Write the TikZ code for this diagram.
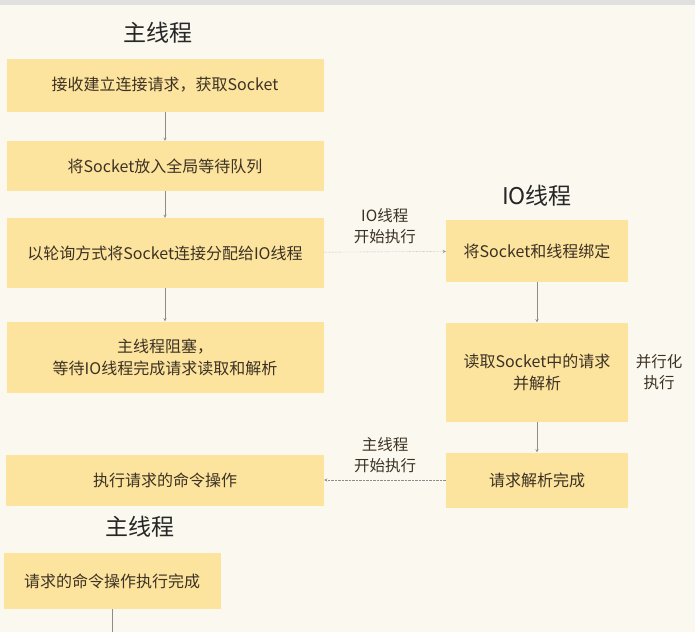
\documentclass[tikz,border=0pt]{standalone}
\usepackage{fontspec}
\setmainfont{Noto Sans CJK SC}
\usetikzlibrary{arrows}

\begin{document}
\begin{tikzpicture}[x=1pt,y=-1pt]

% ------------------------------------------------ theme colors
\definecolor{fl_bg}{RGB}{251,248,239}   %#FBF8EF
\definecolor{fl_box}{RGB}{252,227,158}  %#FCE39E
\definecolor{fl_text}{RGB}{60,50,35}    %#3C3223
\definecolor{fl_line}{RGB}{140,140,140} %#8C8C8C

\tikzset{
  flowbox/.style={fill=fl_box, text=fl_text, align=center, inner sep=0pt, font=\fontsize{16}{22}\selectfont},
  title/.style={text=black!85, font=\fontsize{23}{26}\selectfont},
  note/.style={text=fl_text, align=center, font=\fontsize{15.5}{21}\selectfont},
  flow/.style={draw=fl_line, thin, >=stealth, ->},
  hand/.style={draw=fl_line, thin, densely dotted, >=stealth, ->}
}

% background
\fill[fl_bg] (0,0) rectangle (695,632);
\fill[black!12] (0,0) rectangle (695,5);
\useasboundingbox (0,0) rectangle (695,632);

% main thread
\node[title] (t1) at (158,33) {主线程};
\node[flowbox, minimum width=317pt, minimum height=53pt] (b1) at (165,85) {接收建立连接请求，获取Socket};
\node[flowbox, minimum width=317pt, minimum height=50pt] (b2) at (165,166) {将Socket放入全局等待队列};
\node[flowbox, minimum width=317pt, minimum height=70pt] (b3) at (165,253) {以轮询方式将Socket连接分配给IO线程};
\node[flowbox, minimum width=317pt, minimum height=71pt] (b4) at (165,357) {主线程阻塞，\\等待IO线程完成请求读取和解析};

% io thread
\node[title] (t2) at (537,196) {IO线程};
\node[flowbox, minimum width=182pt, minimum height=62pt] (c1) at (537,251) {将Socket和线程绑定};
\node[flowbox, minimum width=182pt, minimum height=99pt] (c2) at (537,372) {读取Socket中的请求\\并解析};
\node[flowbox, minimum width=182pt, minimum height=55pt] (c3) at (537,480) {请求解析完成};
\node[note] (n3) at (659,372) {并行化\\执行};

% back to main thread
\node[flowbox, minimum width=318pt, minimum height=51pt] (b5) at (165,480) {执行请求的命令操作};
\node[title] (t3) at (140,527) {主线程};
\node[flowbox, minimum width=217pt, minimum height=56pt] (b6) at (112,581) {请求的命令操作执行完成};
\coordinate (e6) at (112,632);

% connectors
\draw[flow] (b1) -- (b2);
\draw[flow] (b2) -- (b3);
\draw[flow] (b3) -- (b4);
\draw[flow] (c1) -- (c2);
\draw[flow] (c2) -- (c3);
\draw[hand] (b3) -- node[note, above=4pt] (n1) {IO线程\\开始执行} (c1);
\draw[hand] (c3) -- node[note, above=4pt] (n2) {主线程\\开始执行} (b5);
\draw[draw=fl_line, thin] (b6) -- (e6);

\end{tikzpicture}
\end{document}
